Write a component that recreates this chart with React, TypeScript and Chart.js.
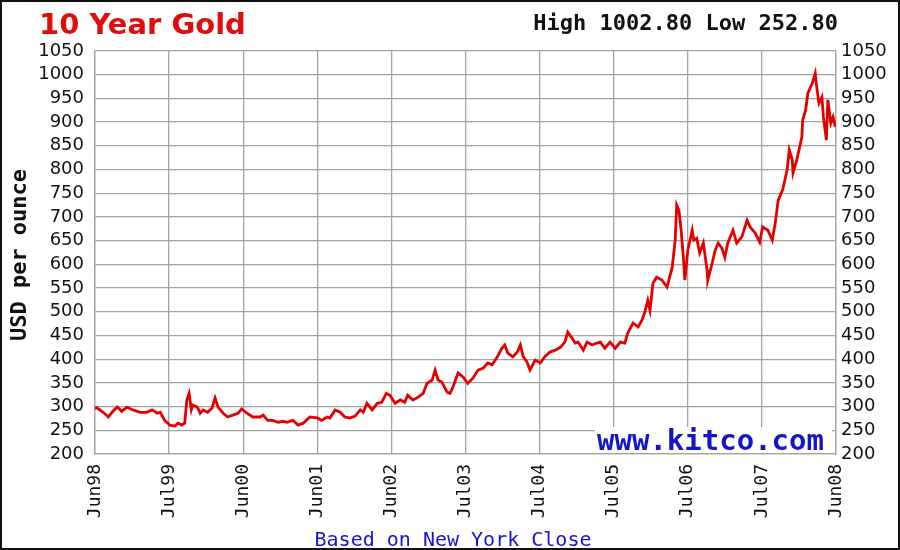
import React, { useEffect, useRef } from "react";
import { Chart, registerables } from "chart.js";

Chart.register(...registerables);

// x position in years since Jun 1998 (gridlines are evenly spaced, one per label)
const xLabels = ["Jun98", "Jul99", "Jun00", "Jun01", "Jun02", "Jul03", "Jul04", "Jul05", "Jul06", "Jul07", "Jun08"];

const years = [
  0.0, 0.03, 0.11, 0.18, 0.23, 0.3, 0.36, 0.43, 0.51, 0.61, 0.7, 0.77, 0.84, 0.88, 0.94,
  1.01, 1.08, 1.12, 1.17, 1.21, 1.24, 1.27, 1.3, 1.32, 1.38, 1.42, 1.46, 1.52, 1.58, 1.62,
  1.66, 1.73, 1.79, 1.86, 1.93, 1.98, 2.05, 2.13, 2.23, 2.27, 2.33, 2.4, 2.47, 2.54, 2.59,
  2.67, 2.74, 2.81, 2.9, 3.0, 3.06, 3.13, 3.17, 3.24, 3.31, 3.37, 3.44, 3.51, 3.58, 3.62,
  3.67, 3.74, 3.81, 3.87, 3.93, 3.98, 4.05, 4.12, 4.18, 4.22, 4.29, 4.36, 4.43, 4.48, 4.55,
  4.59, 4.63, 4.68, 4.75, 4.79, 4.83, 4.9, 4.97, 5.03, 5.1, 5.17, 5.24, 5.3, 5.36, 5.43,
  5.49, 5.53, 5.57, 5.64, 5.7, 5.74, 5.78, 5.83, 5.87, 5.94, 6.01, 6.07, 6.14, 6.21, 6.28,
  6.34, 6.38, 6.44, 6.48, 6.52, 6.59, 6.64, 6.71, 6.77, 6.82, 6.88, 6.95, 7.02, 7.09, 7.15,
  7.19, 7.26, 7.33, 7.38, 7.42, 7.46, 7.49, 7.53, 7.58, 7.65, 7.72, 7.79, 7.83, 7.85, 7.88,
  7.91, 7.94, 7.96, 8.0, 8.06, 8.08, 8.12, 8.16, 8.21, 8.26, 8.27, 8.33, 8.37, 8.41, 8.46,
  8.5, 8.54, 8.61, 8.66, 8.73, 8.8, 8.84, 8.91, 8.97, 9.01, 9.08, 9.14, 9.18, 9.22, 9.28,
  9.34, 9.37, 9.41, 9.42, 9.47, 9.5, 9.54, 9.55, 9.59, 9.62, 9.68, 9.72, 9.74, 9.77, 9.81,
  9.83, 9.87, 9.89, 9.93, 9.96, 9.99,
];

const prices = [
  297, 297, 288, 278, 288, 299, 290, 299, 293, 288, 288, 293, 286, 288, 271,
  261, 259, 265, 261, 265, 314, 328, 293, 303, 299, 286, 293, 288, 297, 318,
  299, 286, 278, 282, 286, 295, 286, 278, 278, 282, 271, 271, 267, 269, 267,
  271, 261, 265, 278, 276, 271, 278, 276, 293, 288, 278, 276, 280, 293, 288,
  307, 293, 307, 309, 328, 324, 307, 314, 309, 324, 314, 320, 328, 349, 356,
  377, 356, 352, 331, 328, 341, 371, 362, 349, 360, 377, 381, 392, 388, 405,
  423, 430, 413, 405, 415, 430, 405, 394, 377, 398, 392, 405, 415, 419, 425,
  436, 457, 444, 434, 436, 419, 436, 430, 434, 436, 423, 436, 423, 436, 434,
  455, 476, 468, 482, 499, 524, 503, 560, 573, 567, 552, 594, 651, 725, 714,
  672, 615, 567, 630, 672, 651, 655, 624, 645, 588, 567, 603, 630, 645, 634,
  615, 645, 672, 645, 658, 693, 679, 666, 647, 679, 672, 651, 687, 735, 757,
  799, 841, 820, 793, 820, 841, 869, 904, 925, 961, 982, 1003, 974, 940, 953,
  911, 862, 947, 898, 911, 890,
];

const yTickValues = [200, 250, 300, 350, 400, 450, 500, 550, 600, 650, 700, 750, 800, 850, 900, 950, 1000, 1050];

const TITLE = "10 Year Gold";
const HIGH_LOW = "High 1002.80 Low 252.80";
const Y_TITLE = "USD per ounce";
const WATERMARK = "www.kitco.com";
const FOOTER = "Based on New York Close";

const GRID = "#a3a3a3";
const RED = "rgb(228,0,0)";
const BLUE = "rgb(20,20,205)";

export default function App() {
  const ref = useRef<HTMLCanvasElement>(null);

  useEffect(() => {
    document.body.style.margin = "0";
    const canvas = ref.current!;
    const textPlugin = {
      id: "texts",
      beforeDatasetsDraw(chart: any) {
        const ctx = chart.ctx;
        const a = chart.chartArea;
        ctx.save();
        ctx.font = "bold 29px 'DejaVu Sans Mono'";
        const w = ctx.measureText(WATERMARK).width;
        ctx.fillStyle = "#fff";
        ctx.fillRect(a.right - w - 14, a.bottom - 27, w + 10, 26);
        ctx.fillStyle = BLUE;
        ctx.textAlign = "right";
        ctx.textBaseline = "alphabetic";
        ctx.fillText(WATERMARK, a.right - 12, a.bottom - 4);
        ctx.restore();
      },
      afterDraw(chart: any) {
        const ctx = chart.ctx;
        ctx.save();
        ctx.textBaseline = "alphabetic";
        ctx.fillStyle = "rgb(225,12,12)";
        ctx.font = "bold 29px 'DejaVu Sans'";
        ctx.textAlign = "left";
        ctx.fillText(TITLE, 39, 34);

        ctx.fillStyle = "#111";
        ctx.font = "bold 22px 'DejaVu Sans Mono'";
        ctx.textAlign = "right";
        ctx.fillText(HIGH_LOW, 838, 30);

        ctx.save();
        ctx.translate(26, 255);
        ctx.rotate(-Math.PI / 2);
        ctx.textAlign = "center";
        ctx.font = "bold 22px 'DejaVu Sans Mono'";
        ctx.fillText(Y_TITLE, 0, 0);
        ctx.restore();

        ctx.fillStyle = BLUE;
        ctx.font = "20px 'DejaVu Sans Mono'";
        ctx.textAlign = "center";
        ctx.fillText(FOOTER, 453, 546);

        ctx.strokeStyle = "#111";
        ctx.lineWidth = 2;
        ctx.strokeRect(1, 1, 898, 548);
        ctx.restore();
      },
    };

    const tickFont = { family: "'DejaVu Sans'", size: 18 };
    const forceYTicks = (s: any) => {
      s.ticks = yTickValues.map((v) => ({ value: v }));
    };

    const chart = new Chart(canvas, {
      type: "line",
      data: {
        datasets: [
          {
            data: years.map((x, i) => ({ x, y: prices[i] })),
            borderColor: RED,
            borderWidth: 2.8,
            pointRadius: 0,
            tension: 0,
            fill: false,
          },
        ],
      },
      options: {
        animation: false,
        responsive: false,
        parsing: false as any,
        layout: { padding: { top: 51, left: 0, right: 0, bottom: 0 } },
        plugins: { legend: { display: false }, tooltip: { enabled: false } },
        scales: {
          x: {
            type: "linear",
            min: 0,
            max: xLabels.length - 1,
            afterFit(s: any) {
              s.height = 96;
            },
            afterBuildTicks(s: any) {
              s.ticks = xLabels.map((_, i) => ({ value: i }));
            },
            ticks: {
              autoSkip: false,
              minRotation: 90,
              maxRotation: 90,
              padding: 10,
              color: "#111",
              font: { family: "'DejaVu Sans Mono'", size: 18 },
              callback: (v: any) => xLabels[Math.round(Number(v))] ?? "",
            },
            grid: { color: GRID, lineWidth: 1.3, drawTicks: false },
            border: { color: GRID, width: 1.3 },
          },
          y: {
            position: "left",
            min: yTickValues[0],
            max: yTickValues[yTickValues.length - 1],
            afterFit(s: any) {
              s.width = 95;
            },
            afterBuildTicks: forceYTicks,
            ticks: {
              autoSkip: false,
              padding: 11,
              color: "#111",
              font: tickFont,
              callback: (v: any) => String(v),
            },
            grid: { color: GRID, lineWidth: 1.3, drawTicks: false },
            border: { color: GRID, width: 1.3 },
          },
          y2: {
            position: "right",
            min: yTickValues[0],
            max: yTickValues[yTickValues.length - 1],
            afterFit(s: any) {
              s.width = 64;
            },
            afterBuildTicks: forceYTicks,
            ticks: {
              autoSkip: false,
              padding: 5,
              color: "#111",
              font: tickFont,
              callback: (v: any) => String(v),
            },
            grid: { display: false, drawTicks: false },
            border: { color: GRID, width: 1.3 },
          },
        },
      },
      plugins: [textPlugin],
    });
    return () => chart.destroy();
  }, []);

  return (
    <div style={{ width: 900, height: 550, background: "#fff" }}>
      <canvas ref={ref} width={900} height={550} style={{ width: 900, height: 550, display: "block" }} />
    </div>
  );
}
